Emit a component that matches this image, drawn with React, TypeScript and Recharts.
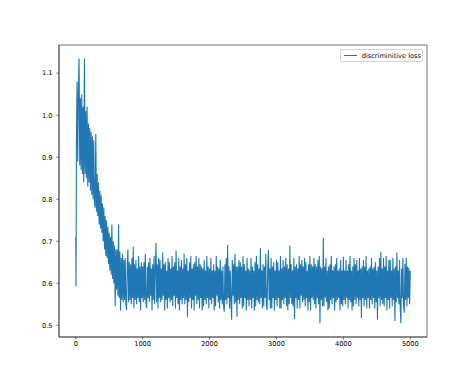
import React from 'react';
import { LineChart, Line, XAxis, YAxis, ReferenceArea } from 'recharts';

// discriminitive loss. Two irregular points at the very start,
// then one value every 10 steps (rows of 20 = 200 steps each).
const warmupSteps = [0, 5];
const warmupLoss = [0.71, 0.592];

const STEP = 10;
const loss = [
  0.93, 1.08, 0.89, 1.06, 1.135, 0.88, 1.04, 0.87, 1.05, 0.86, 1.02, 0.84, 1.135, 0.86, 1.01, 0.85, 1.02, 0.83, 0.98, 0.84, // 10-200
  0.97, 0.82, 0.96, 0.81, 0.95, 0.8, 0.94, 0.79, 0.78, 0.955, 0.77, 0.86, 0.76, 0.84, 0.74, 0.82, 0.73, 0.81, 0.72, 0.79, // 210-400
  0.7, 0.78, 0.68, 0.76, 0.665, 0.75, 0.66, 0.735, 0.645, 0.72, 0.63, 0.71, 0.62, 0.74, 0.61, 0.7, 0.6, 0.69, 0.545, 0.68, // 410-600
  0.585, 0.68, 0.57, 0.74, 0.565, 0.675, 0.535, 0.66, 0.56, 0.67, 0.555, 0.655, 0.56, 0.66, 0.55, 0.536, 0.645, 0.68, 0.555, 0.65, // 610-800
  0.56, 0.645, 0.55, 0.66, 0.565, 0.687, 0.54, 0.645, 0.56, 0.655, 0.55, 0.635, 0.565, 0.665, 0.555, 0.64, 0.535, 0.65, 0.565, 0.64, // 810-1000
  0.555, 0.65, 0.56, 0.67, 0.55, 0.541, 0.64, 0.565, 0.65, 0.555, 0.66, 0.57, 0.635, 0.535, 0.645, 0.56, 0.665, 0.55, 0.635, 0.696,
  0.555, 0.645, 0.54, 0.66, 0.565, 0.655, 0.555, 0.635, 0.56, 0.673, 0.57, 0.645, 0.535, 0.65, 0.56, 0.63, 0.54, 0.66, 0.565, 0.65,
  0.555, 0.635, 0.56, 0.665, 0.545, 0.64, 0.57, 0.65, 0.54, 0.678, 0.565, 0.63, 0.55, 0.66, 0.535, 0.64, 0.56, 0.655, 0.55, 0.635,
  0.565, 0.67, 0.55, 0.645, 0.56, 0.66, 0.52, 0.63, 0.555, 0.65, 0.565, 0.665, 0.54, 0.635, 0.56, 0.645, 0.535, 0.65, 0.57, 0.665,
  0.55, 0.64, 0.56, 0.66, 0.54, 0.645, 0.565, 0.64, 0.535, 0.635, 0.545, 0.656, 0.56, 0.63, 0.55, 0.665, 0.565, 0.64, 0.54, 0.635, // -2000
  0.56, 0.66, 0.55, 0.63, 0.565, 0.645, 0.535, 0.63, 0.545, 0.665, 0.57, 0.64, 0.555, 0.635, 0.54, 0.655, 0.56, 0.63, 0.55, 0.64,
  0.545, 0.532, 0.645, 0.56, 0.66, 0.55, 0.691, 0.565, 0.64, 0.54, 0.63, 0.56, 0.513, 0.655, 0.57, 0.645, 0.55, 0.67, 0.555, 0.64,
  0.52, 0.64, 0.56, 0.655, 0.55, 0.65, 0.565, 0.64, 0.54, 0.664, 0.545, 0.645, 0.565, 0.63, 0.535, 0.66, 0.56, 0.635, 0.545, 0.63,
  0.56, 0.66, 0.54, 0.64, 0.565, 0.63, 0.535, 0.65, 0.545, 0.665, 0.56, 0.645, 0.555, 0.635, 0.55, 0.683, 0.565, 0.63, 0.54, 0.645,
  0.545, 0.64, 0.565, 0.67, 0.55, 0.536, 0.64, 0.679, 0.56, 0.635, 0.54, 0.66, 0.54, 0.64, 0.565, 0.65, 0.535, 0.63, 0.56, 0.655, // -3000
  0.545, 0.65, 0.565, 0.63, 0.54, 0.665, 0.54, 0.635, 0.56, 0.655, 0.55, 0.64, 0.565, 0.66, 0.545, 0.645, 0.535, 0.635, 0.55, 0.69,
  0.565, 0.645, 0.55, 0.63, 0.545, 0.66, 0.515, 0.64, 0.565, 0.645, 0.54, 0.635, 0.56, 0.665, 0.54, 0.645, 0.57, 0.655, 0.555, 0.64,
  0.56, 0.66, 0.545, 0.65, 0.565, 0.63, 0.535, 0.645, 0.555, 0.665, 0.535, 0.645, 0.565, 0.64, 0.56, 0.66, 0.55, 0.645, 0.54, 0.64,
  0.565, 0.655, 0.55, 0.665, 0.505, 0.64, 0.56, 0.635, 0.545, 0.708, 0.545, 0.64, 0.565, 0.66, 0.555, 0.63, 0.535, 0.64, 0.54, 0.645,
  0.56, 0.665, 0.55, 0.63, 0.565, 0.64, 0.535, 0.645, 0.555, 0.66, 0.56, 0.63, 0.565, 0.635, 0.535, 0.655, 0.55, 0.63, 0.545, 0.663, // -4000
  0.56, 0.63, 0.55, 0.655, 0.565, 0.63, 0.54, 0.645, 0.56, 0.665, 0.555, 0.63, 0.535, 0.64, 0.545, 0.66, 0.56, 0.645, 0.55, 0.655,
  0.565, 0.63, 0.545, 0.66, 0.56, 0.635, 0.517, 0.64, 0.565, 0.655, 0.545, 0.64, 0.56, 0.665, 0.54, 0.63, 0.565, 0.635, 0.54, 0.64,
  0.56, 0.66, 0.55, 0.635, 0.565, 0.64, 0.54, 0.65, 0.555, 0.63, 0.513, 0.64, 0.565, 0.66, 0.545, 0.675, 0.56, 0.635, 0.55, 0.66,
  0.545, 0.64, 0.565, 0.665, 0.535, 0.63, 0.56, 0.655, 0.54, 0.655, 0.565, 0.63, 0.545, 0.66, 0.56, 0.635, 0.51, 0.64, 0.555, 0.673,
  0.565, 0.63, 0.55, 0.655, 0.54, 0.505, 0.635, 0.565, 0.66, 0.545, 0.53, 0.645, 0.56, 0.66, 0.545, 0.64, 0.565, 0.636, 0.55, 0.63, // -5000
];

const xTicks = [0, 1000, 2000, 3000, 4000, 5000];
const yTicks = [0.5, 0.6, 0.7, 0.8, 0.9, 1.0, 1.1];
const xDomain: [number, number] = [-250, 5250];
const yDomain: [number, number] = [0.472, 1.167];

const data = [
  ...warmupSteps.map((s, i) => ({ step: s, loss: warmupLoss[i] })),
  ...loss.map((v, i) => ({ step: (i + 1) * STEP, loss: v })),
];

const font = 'DejaVu Sans, sans-serif';
const tickStyle = { fontSize: 6.6, fill: '#000', fontFamily: font };
const spine = { stroke: '#333', strokeWidth: 0.7 };

export default function App() {
  return (
    <div style={{ position: 'absolute', left: 0, top: 0, width: 474, height: 379, background: '#fff' }}>
      <LineChart width={474} height={379} data={data} margin={{ top: 45, right: 47, bottom: 0, left: 0 }}>
        <XAxis
          dataKey="step"
          type="number"
          domain={xDomain}
          ticks={xTicks}
          allowDataOverflow
          height={42}
          tickSize={2.5}
          tickMargin={2}
          tick={tickStyle}
          axisLine={spine}
          tickLine={spine}
        />
        <YAxis
          type="number"
          domain={yDomain}
          ticks={yTicks}
          allowDataOverflow
          width={59}
          tickSize={2.5}
          tickMargin={4}
          tick={tickStyle}
          tickFormatter={(v: number) => v.toFixed(1)}
          axisLine={spine}
          tickLine={spine}
        />
        <ReferenceArea x1={xDomain[0]} x2={xDomain[1]} y1={yDomain[0]} y2={yDomain[1]} fill="none" stroke="#333" strokeWidth={0.7} />
        <Line
          type="linear"
          dataKey="loss"
          name="discriminitive loss"
          stroke="#1f77b4"
          strokeWidth={1.1}
          dot={false}
          activeDot={false}
          isAnimationActive={false}
        />
      </LineChart>
      {/* legend box, upper right like matplotlib */}
      <div
        style={{
          position: 'absolute',
          left: 340,
          top: 49,
          width: 83,
          height: 13,
          boxSizing: 'border-box',
          border: '1px solid #d4d4d4',
          borderRadius: 2,
          background: 'rgba(255,255,255,0.8)',
          display: 'flex',
          alignItems: 'center',
          fontFamily: font,
          fontSize: 6.6,
          color: '#000',
          whiteSpace: 'nowrap',
        }}
      >
        <span style={{ display: 'inline-block', marginLeft: 2.5, width: 13, height: 1, background: '#1f77b4' }} />
        <span style={{ marginLeft: 5.3 }}>discriminitive loss</span>
      </div>
    </div>
  );
}
